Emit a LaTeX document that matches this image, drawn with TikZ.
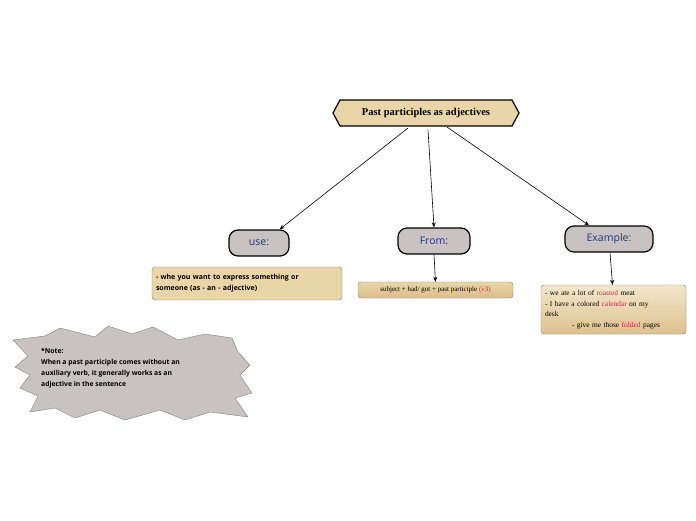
\documentclass[tikz,border=0pt]{standalone}
\usepackage{fontspec}
\setmainfont{Liberation Serif}
\newfontfamily\osans{Open Sans}
\usetikzlibrary{arrows.meta}
\definecolor{tan}{HTML}{E9D6A8}
\definecolor{gr}{HTML}{C9C2C2}
\definecolor{navy}{HTML}{1F3A7A}
\definecolor{rd}{HTML}{E0204A}
\tikzset{
 lab/.style={draw=black,line width=1.2pt,fill=gr,rounded corners=9pt,minimum height=26pt,font=\osans\fontsize{10.5}{12}\selectfont,text=navy},
 txt/.style={draw=gray,fill=tan,rounded corners=3pt,align=left,inner sep=4pt},
 con/.style={-{Stealth[length=5pt,width=4pt]},black,line width=0.6pt}
}
\begin{document}
\begin{tikzpicture}[x=1pt,y=-1pt]
\useasboundingbox (0,0) rectangle (696,520);
\draw[fill=tan,line width=1.2pt] (340,100) -- (512,100) -- (519,113) -- (512,126) -- (340,126) -- (333,113) -- cycle;
\node[font=\bfseries\fontsize{10.5}{12}\selectfont] (t) at (426,113) {Past participles as adjectives};
\coordinate (t1) at (408,128);
\coordinate (t2) at (428,130);
\coordinate (t3) at (447,127);
\node[lab,minimum width=60pt] (u) at (259,243) {use:};
\node[lab,minimum width=72pt] (f) at (434,241) {From:};
\node[lab,minimum width=88pt] (e) at (609,239) {Example:};
\draw[con] (t1) -- ([xshift=-10pt]u.north east);
\draw[con] (t2) -- (f.north);
\draw[con] (t3) -- ([xshift=-20pt]e.north);
\node[txt,text width=182pt,minimum height=33pt,font=\osans\fontsize{7}{11}\selectfont\bfseries] (ut) at (247,283.5) {- whe you want to express something or\\ someone (as - an - adjective)};
\node[txt,minimum width=155pt,minimum height=16pt,inner sep=2pt,font=\fontsize{7}{8}\selectfont,top color=tan,bottom color=tan!70!brown] (ft) at (435.5,290) {subject + had/ got + past participle \textcolor{rd}{(v3)}};
\node[txt,text width=137pt,minimum height=49pt,font=\fontsize{7.4}{10.5}\selectfont,top color=tan!60!white,bottom color=tan!75!brown] (et) at (613.5,309.5) {- we ate a lot of \textcolor{rd}{roasted} meat\\- I have a colored \textcolor{rd}{calendar} on my\\desk\\\hspace*{27pt}- give me those \textcolor{rd}{folded} pages};
\draw[con] (f.south) -- (ft.north);
\draw[con] ([xshift=1pt]e.south) -- ([xshift=-1pt]et.north);
\draw[gray,fill=gr,line join=miter] (13,340) -- (45,336) -- (60,328) -- (95,337) -- (108,326) -- (132,334) -- (153,327) -- (178,340) -- (205,334) -- (232,338) -- (238,352) -- (250,365) -- (240,375) -- (252,393) -- (235,398) -- (248,417) -- (210,412) -- (185,420) -- (160,410) -- (125,420) -- (100,410) -- (75,418) -- (55,408) -- (30,412) -- (38,396) -- (20,388) -- (30,375) -- (15,367) -- (28,356) -- cycle;
\node[align=left,anchor=north west,font=\osans\fontsize{6.8}{11}\selectfont\bfseries,inner sep=0pt] (n) at (41,348) {*Note:\\When a past participle comes without an\\auxiliary verb, it generally works as an\\adjective in the sentence};
\end{tikzpicture}
\end{document}
